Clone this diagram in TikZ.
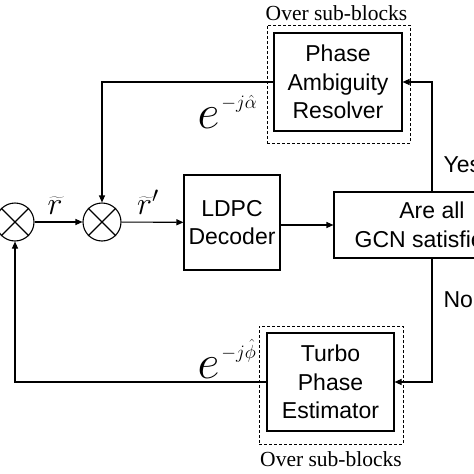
\RequirePackage{fix-cm}
\documentclass[tikz,border=0pt]{standalone}
\usepackage{fontspec}
\setmainfont{Liberation Sans}
\newfontfamily\serifnote{Liberation Serif}
\usetikzlibrary{arrows.meta}
\begin{document}
\begin{tikzpicture}[x=1pt,y=-1pt,
  line width=1.1pt,
  blk/.style={draw, rectangle, inner sep=0pt, align=center, font=\fontsize{23}{28.5}\selectfont},
  dbox/.style={draw, dash pattern=on 3pt off 2pt, line width=1pt, rectangle, inner sep=0pt},
  mult/.style={draw, circle, minimum size=38pt, inner sep=0pt},
  arr/.style={-{Triangle[length=7pt,width=6pt]}},
  lbl/.style={inner sep=0pt, anchor=base west},
  note/.style={font=\serifnote\fontsize{21.5}{24}\selectfont, inner sep=0pt, anchor=base},
  bige/.style={inner sep=0pt, anchor=base west, font=\fontsize{48}{48}\selectfont},
  supe/.style={inner sep=0pt, anchor=base west, font=\fontsize{19}{19}\selectfont},
  rlbl/.style={inner sep=0pt, anchor=base, font=\fontsize{32}{32}\selectfont}
]
\useasboundingbox (0,0) rectangle (474,474);

% multipliers
\node[mult] (m1) at (15,222) {};
\node[mult] (m2) at (102,222) {};
\draw (m1.north west) -- (m1.south east) (m1.north east) -- (m1.south west);
\draw (m2.north west) -- (m2.south east) (m2.north east) -- (m2.south west);

% blocks
\node[blk, minimum width=96pt, minimum height=95pt] (ldpc) at (232,222.5) {LDPC\\Decoder};
\node[blk, minimum width=196pt, minimum height=66pt] (gcn) at (432,225) {Are all\\GCN satisfied?};
\node[blk, minimum width=128pt, minimum height=98pt] (par) at (338,82) {Phase\\Ambiguity\\Resolver};
\node[blk, minimum width=127pt, minimum height=98pt] (tpe) at (330.5,382) {Turbo\\Phase\\Estimator};

% dashed groups
\node[dbox, minimum width=143pt, minimum height=118pt] (dpar) at (338.5,84) {};
\node[dbox, minimum width=144pt, minimum height=118pt] (dtpe) at (331,385) {};
\node[note] (n1) at (336.5,20) {Over sub-blocks};
\node[note] (n2) at (331,466) {Over sub-blocks};

% connectors
\draw[arr] (m1) -- (m2);
\draw[arr] (m2) -- (ldpc);
\draw[arr] (ldpc.east |- gcn.west) -- (gcn.west);
\draw[arr] (gcn.north) -- (gcn.north |- par.east) -- (par.east);
\draw[arr] (gcn.south) -- (gcn.south |- tpe.east) -- (tpe.east);
\draw[arr] (par.west) -| (m2.north);
\draw[arr] (tpe.west) -| (m1.south);

% labels
\node[lbl] (yes) at (443,172) {\fontsize{23}{28}\selectfont Yes};
\node[lbl] (no) at (443,307) {\fontsize{23}{28}\selectfont No};
\node[rlbl] (r1) at (55,214) {$\widetilde{r}$};
\node[rlbl] (r2) at (148,214) {$\widetilde{r}'$};
\node[bige] (ea) at (197,128) {$e$};
\node[supe] (sa) at (ea.base east) [xshift=1pt, yshift=20pt] {$-j\hat{\alpha}$};
\node[bige] (ep) at (197,378) {$e$};
\node[supe] (sp) at (ep.base east) [xshift=1pt, yshift=20pt] {$-j\hat{\phi}$};
\end{tikzpicture}
\end{document}
